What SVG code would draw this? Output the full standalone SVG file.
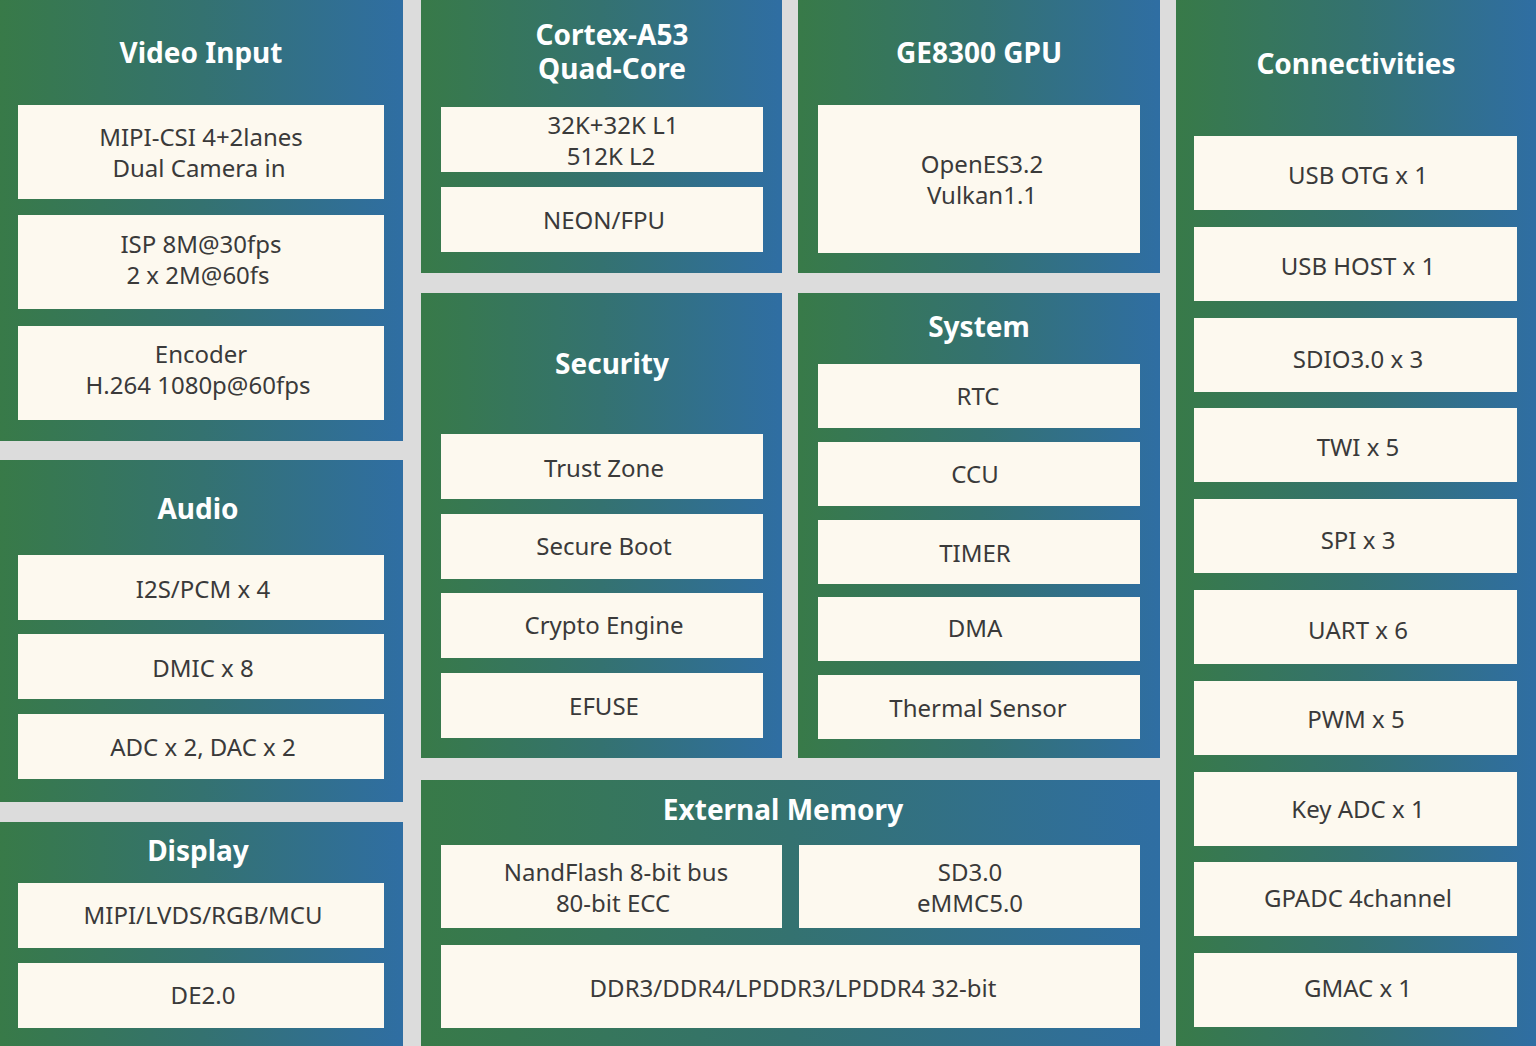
<svg xmlns="http://www.w3.org/2000/svg" width="1536" height="1046" viewBox="0 0 1536 1046">
<defs>
<linearGradient id="g" x1="0" y1="0" x2="1" y2="0">
<stop offset="0" stop-color="#387a48"/><stop offset="0.5" stop-color="#347270"/><stop offset="1" stop-color="#2f6ea3"/>
</linearGradient>
<style>
.p{fill:url(#g)}
.b{fill:#fdf9ef}
.t{font-family:"Noto Sans","Open Sans",sans-serif;font-weight:bold;font-size:28px;fill:#fff;text-anchor:middle}
.s{font-family:"Noto Sans","Open Sans",sans-serif;font-size:24px;fill:#3a3a3a;text-anchor:middle}
</style>
</defs>
<rect width="1536" height="1046" fill="#dcdcdc"/>
<g id="video">
<rect class="p" x="0" y="0" width="403" height="441"/>
<text class="t" x="201" y="63">Video Input</text>
<rect class="b" x="18" y="105" width="366" height="94"/><text class="s" x="201" y="146">MIPI-CSI 4+2lanes</text><text class="s" x="199" y="177">Dual Camera in</text>
<rect class="b" x="18" y="215" width="366" height="94"/><text class="s" x="201" y="253">ISP 8M@30fps</text><text class="s" x="198" y="284">2 x 2M@60fs</text>
<rect class="b" x="18" y="326" width="366" height="94"/><text class="s" x="201" y="363">Encoder</text><text class="s" x="198" y="394">H.264 1080p@60fps</text>
</g>
<g id="audio">
<rect class="p" x="0" y="460" width="403" height="342"/>
<text class="t" x="198" y="519">Audio</text>
<rect class="b" x="18" y="555" width="366" height="65"/><text class="s" x="203" y="598">I2S/PCM x 4</text>
<rect class="b" x="18" y="634" width="366" height="65"/><text class="s" x="203" y="677">DMIC x 8</text>
<rect class="b" x="18" y="714" width="366" height="65"/><text class="s" x="203" y="756">ADC x 2, DAC x 2</text>
</g>
<g id="display">
<rect class="p" x="0" y="822" width="403" height="224"/>
<text class="t" x="198" y="861">Display</text>
<rect class="b" x="18" y="883" width="366" height="65"/><text class="s" x="203" y="924">MIPI/LVDS/RGB/MCU</text>
<rect class="b" x="18" y="963" width="366" height="65"/><text class="s" x="203" y="1004">DE2.0</text>
</g>
<g id="cortex">
<rect class="p" x="421" y="0" width="361" height="273"/>
<text class="t" x="612" y="45">Cortex-A53</text><text class="t" x="612" y="79">Quad-Core</text>
<rect class="b" x="441" y="107" width="322" height="65"/><text class="s" x="613" y="134">32K+32K L1</text><text class="s" x="611" y="165">512K L2</text>
<rect class="b" x="441" y="187" width="322" height="65"/><text class="s" x="604" y="229">NEON/FPU</text>
</g>
<g id="security">
<rect class="p" x="421" y="293" width="361" height="465"/>
<text class="t" x="612" y="374">Security</text>
<rect class="b" x="441" y="434" width="322" height="65"/><text class="s" x="604" y="477">Trust Zone</text>
<rect class="b" x="441" y="514" width="322" height="65"/><text class="s" x="604" y="555">Secure Boot</text>
<rect class="b" x="441" y="593" width="322" height="65"/><text class="s" x="604" y="634">Crypto Engine</text>
<rect class="b" x="441" y="673" width="322" height="65"/><text class="s" x="604" y="715">EFUSE</text>
</g>
<g id="gpu">
<rect class="p" x="798" y="0" width="362" height="273"/>
<text class="t" x="979" y="63">GE8300 GPU</text>
<rect class="b" x="818" y="105" width="322" height="148"/><text class="s" x="982" y="173">OpenES3.2</text><text class="s" x="982" y="204">Vulkan1.1</text>
</g>
<g id="system">
<rect class="p" x="798" y="293" width="362" height="465"/>
<text class="t" x="979" y="337">System</text>
<rect class="b" x="818" y="364" width="322" height="64"/><text class="s" x="978" y="405">RTC</text>
<rect class="b" x="818" y="442" width="322" height="64"/><text class="s" x="975" y="483">CCU</text>
<rect class="b" x="818" y="520" width="322" height="64"/><text class="s" x="975" y="562">TIMER</text>
<rect class="b" x="818" y="597" width="322" height="64"/><text class="s" x="975" y="637">DMA</text>
<rect class="b" x="818" y="675" width="322" height="64"/><text class="s" x="978" y="717">Thermal Sensor</text>
</g>
<g id="memory">
<rect class="p" x="421" y="780" width="739" height="266"/>
<text class="t" x="783" y="820">External Memory</text>
<rect class="b" x="441" y="845" width="341" height="83"/><text class="s" x="616" y="881">NandFlash 8-bit bus</text><text class="s" x="613" y="912">80-bit ECC</text>
<rect class="b" x="799" y="845" width="341" height="83"/><text class="s" x="970" y="881">SD3.0</text><text class="s" x="970" y="912">eMMC5.0</text>
<rect class="b" x="441" y="945" width="699" height="83"/><text class="s" x="793" y="997">DDR3/DDR4/LPDDR3/LPDDR4 32-bit</text>
</g>
<g id="connectivities">
<rect class="p" x="1176" y="0" width="360" height="1046"/>
<text class="t" x="1356" y="74">Connectivities</text>
<rect class="b" x="1194" y="136" width="323" height="74"/><text class="s" x="1358" y="184">USB OTG x 1</text>
<rect class="b" x="1194" y="227" width="323" height="74"/><text class="s" x="1358" y="275">USB HOST x 1</text>
<rect class="b" x="1194" y="318" width="323" height="74"/><text class="s" x="1358" y="368">SDIO3.0 x 3</text>
<rect class="b" x="1194" y="408" width="323" height="74"/><text class="s" x="1358" y="456">TWI x 5</text>
<rect class="b" x="1194" y="499" width="323" height="74"/><text class="s" x="1358" y="549">SPI x 3</text>
<rect class="b" x="1194" y="590" width="323" height="74"/><text class="s" x="1358" y="639">UART x 6</text>
<rect class="b" x="1194" y="681" width="323" height="74"/><text class="s" x="1356" y="728">PWM x 5</text>
<rect class="b" x="1194" y="772" width="323" height="74"/><text class="s" x="1358" y="818">Key ADC x 1</text>
<rect class="b" x="1194" y="862" width="323" height="74"/><text class="s" x="1358" y="907">GPADC 4channel</text>
<rect class="b" x="1194" y="953" width="323" height="74"/><text class="s" x="1358" y="997">GMAC x 1</text>
</g>
<g id="connectors"/>
</svg>
